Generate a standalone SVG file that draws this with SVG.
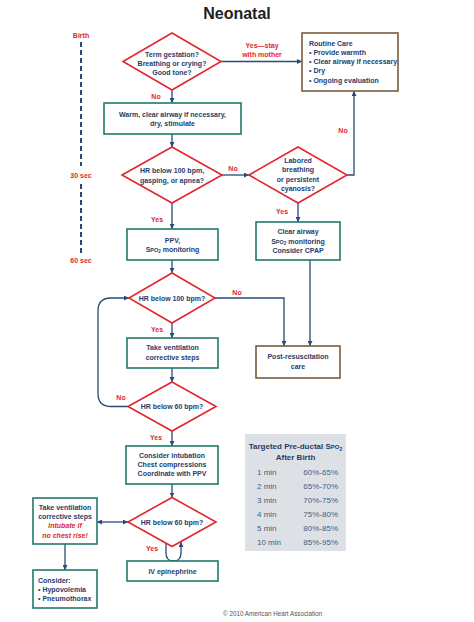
<svg xmlns="http://www.w3.org/2000/svg" width="474" height="622" viewBox="0 0 474 622">
<defs>
<style>
text{font-family:"Liberation Sans",Arial,sans-serif;}
.t{font-weight:bold;font-size:7px;fill:#1f3d6b;text-anchor:middle;}
.l{text-anchor:start;}
.r{font-weight:bold;font-size:7px;fill:#e3262e;text-anchor:middle;}
.ri{font-style:italic;fill:#e3262e;}
.d{fill:#fff;stroke:#e3262e;stroke-width:1.6;}
.b{fill:#fff;stroke:#1f7a6d;stroke-width:1.6;}
.br{fill:#fff;stroke:#7a5b3c;stroke-width:1.6;}
.c{fill:none;stroke:#2b4a78;stroke-width:1.3;}
.arr{marker-end:url(#a);}
.tm{font-size:8px;fill:#3f5f86;}
</style>
<marker id="a" viewBox="0 0 10 10" refX="10" refY="5" markerWidth="5" markerHeight="5" markerUnits="userSpaceOnUse" orient="auto-start-reverse"><path d="M0,0 L10,5 L0,10 z" fill="#2b4a78"/></marker>
</defs>
<rect width="474" height="622" fill="#fff"/>
<text x="237" y="19" style="font-weight:bold;font-size:16px;fill:#222;text-anchor:middle">Neonatal</text>

<g id="timeline">
<line x1="81" y1="42" x2="81" y2="166" stroke="#2b4a78" stroke-width="2" stroke-dasharray="5 3"/>
<line x1="81" y1="184" x2="81" y2="254" stroke="#2b4a78" stroke-width="2" stroke-dasharray="5 3"/>
<text class="r" x="81" y="37.5">Birth</text>
<text class="r" x="81" y="178">30 sec</text>
<text class="r" x="81" y="262.5">60 sec</text>
</g>

<g id="connectors">
<path class="c arr" d="M172,90 V103"/>
<path class="c arr" d="M221,61.5 H302"/>
<path class="c arr" d="M172,134 V147"/>
<path class="c arr" d="M222,175 H249"/>
<path class="c arr" d="M347,175 H354 V91"/>
<path class="c arr" d="M172,203 V229"/>
<path class="c arr" d="M298,203 V222"/>
<path class="c arr" d="M172,260 V273"/>
<path class="c arr" d="M310,260 V346"/>
<path class="c arr" d="M215,298 H284 V346"/>
<path class="c arr" d="M172,323 V338"/>
<path class="c arr" d="M172,368 V382"/>
<path class="c arr" d="M128,406.5 H111 Q98,406.5 98,393.5 V311 Q98,298 111,298 H129"/>
<path class="c arr" d="M172,431 V446"/>
<path class="c arr" d="M172,484 V497.5"/>
<path class="c" d="M97,522 H128" marker-start="url(#a)" marker-end="url(#a)"/>
<path class="c arr" d="M65,544 V570"/>
<path class="c arr" d="M166,543 V553 Q166,561 173.5,561 Q181,561 181,553 V542"/>
<text class="r" x="156" y="98.5">No</text>
<text class="r" x="262" y="47.5">Yes—stay</text>
<text class="r" x="262" y="56.5">with mother</text>
<text class="r" x="233" y="170.5">No</text>
<text class="r" x="157" y="222">Yes</text>
<text class="r" x="282" y="213.5">Yes</text>
<text class="r" x="343" y="132.5">No</text>
<text class="r" x="237" y="295">No</text>
<text class="r" x="157" y="332">Yes</text>
<text class="r" x="121" y="400">No</text>
<text class="r" x="156" y="440">Yes</text>
<text class="r" x="152" y="551">Yes</text>
</g>

<g id="n1">
<polygon class="d" points="172,33 221,61.5 172,90 123,61.5"/>
<text class="t" x="172" y="56.8">Term gestation?</text>
<text class="t" x="172" y="66">Breathing or crying?</text>
<text class="t" x="172" y="75">Good tone?</text>
</g>
<g id="n2">
<rect class="b" x="104" y="103" width="137" height="31"/>
<text class="t" x="172.5" y="116.5">Warm, clear airway if necessary,</text>
<text class="t" x="172.5" y="125.5">dry, stimulate</text>
</g>
<g id="n3">
<polygon class="d" points="172,147 222,175 172,203 122,175"/>
<text class="t" x="172" y="173">HR below 100 bpm,</text>
<text class="t" x="172" y="182.5">gasping, or apnea?</text>
</g>
<g id="n4">
<polygon class="d" points="298,147 347,175 298,203 249,175"/>
<text class="t" x="298" y="163">Labored</text>
<text class="t" x="298" y="172.3">breathing</text>
<text class="t" x="298" y="181.6">or persistent</text>
<text class="t" x="298" y="190.8">cyanosis?</text>
</g>
<g id="n5">
<rect class="b" x="127" y="229" width="91" height="31"/>
<text class="t" x="172.5" y="242.5">PPV,</text>
<text class="t" x="172.5" y="251.8">S<tspan font-size="5.5">PO</tspan><tspan font-size="4.5" dy="1.5">2</tspan><tspan dy="-1.5"> monitoring</tspan></text>
</g>
<g id="n6">
<rect class="b" x="256" y="222" width="84" height="38"/>
<text class="t" x="298" y="234">Clear airway</text>
<text class="t" x="298" y="243.5">S<tspan font-size="5.5">PO</tspan><tspan font-size="4.5" dy="1.5">2</tspan><tspan dy="-1.5"> monitoring</tspan></text>
<text class="t" x="298" y="252.8">Consider CPAP</text>
</g>
<g id="n7">
<rect class="br" x="302" y="33" width="96" height="58"/>
<text class="t l" x="309" y="45.8">Routine Care</text>
<text class="t l" x="309" y="55">• Provide warmth</text>
<text class="t l" x="309" y="64.2">• Clear airway if necessary</text>
<text class="t l" x="309" y="73.4">• Dry</text>
<text class="t l" x="309" y="82.6">• Ongoing evaluation</text>
</g>
<g id="n8">
<polygon class="d" points="172,273 215,298 172,323 129,298"/>
<text class="t" x="172" y="300.5">HR below 100 bpm?</text>
</g>
<g id="n9">
<rect class="br" x="256" y="346" width="84" height="32"/>
<text class="t" x="298" y="359">Post-resuscitation</text>
<text class="t" x="298" y="368.5">care</text>
</g>
<g id="n10">
<rect class="b" x="127" y="338" width="91" height="30"/>
<text class="t" x="172.5" y="350.3">Take ventilation</text>
<text class="t" x="172.5" y="360">corrective steps</text>
</g>
<g id="n11">
<polygon class="d" points="172,382 216,406.5 172,431 128,406.5"/>
<text class="t" x="172" y="409">HR below 60 bpm?</text>
</g>
<g id="n12">
<rect class="b" x="126" y="446" width="92" height="38"/>
<text class="t" x="172" y="457.5">Consider intubation</text>
<text class="t" x="172" y="467">Chest compressions</text>
<text class="t" x="172" y="476.2">Coordinate with PPV</text>
</g>
<g id="n13">
<polygon class="d" points="172,497.5 216,522 172,546.5 128,522"/>
<text class="t" x="172" y="524.5">HR below 60 bpm?</text>
</g>
<g id="n14">
<rect class="b" x="127" y="561" width="91" height="20"/>
<text class="t" x="172.5" y="573.5">IV epinephrine</text>
</g>
<g id="n15">
<rect class="b" x="33" y="498" width="64" height="46"/>
<text class="t" x="65" y="509.8">Take ventilation</text>
<text class="t" x="65" y="519.2">corrective steps</text>
<text class="t ri" x="65" y="528.3">Intubate if</text>
<text class="t ri" x="65" y="537.6">no chest rise!</text>
</g>
<g id="n16">
<rect class="b" x="33" y="570" width="64" height="38"/>
<text class="t l" x="38" y="582.5">Consider:</text>
<text class="t l" x="38" y="591.8">• Hypovolemia</text>
<text class="t l" x="38" y="601">• Pneumothorax</text>
</g>

<g id="table">
<rect x="245" y="434" width="101" height="117" fill="#dde1e6"/>
<text class="t" x="295.5" y="449" style="font-size:8px">Targeted Pre-ductal S<tspan font-size="6">PO</tspan><tspan font-size="5" dy="2">2</tspan></text>
<text class="t" x="295.5" y="460" style="font-size:8px">After Birth</text>
<g class="tm">
<text x="257" y="475">1 min</text><text x="338" y="475" text-anchor="end">60%-65%</text>
<text x="257" y="489">2 min</text><text x="338" y="489" text-anchor="end">65%-70%</text>
<text x="257" y="503">3 min</text><text x="338" y="503" text-anchor="end">70%-75%</text>
<text x="257" y="517">4 min</text><text x="338" y="517" text-anchor="end">75%-80%</text>
<text x="257" y="531">5 min</text><text x="338" y="531" text-anchor="end">80%-85%</text>
<text x="257" y="545">10 min</text><text x="338" y="545" text-anchor="end">85%-95%</text>
</g>
</g>

<text x="223" y="616" style="font-size:6.3px;fill:#555">© 2010 American Heart Association</text>
</svg>
